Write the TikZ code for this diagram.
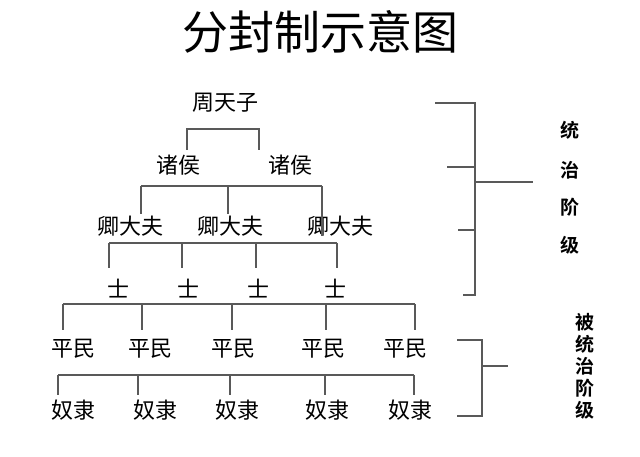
\documentclass[tikz,border=0pt]{standalone}
\usepackage{fontspec}
\newfontfamily\cjk{Noto Sans CJK SC}
\newfontfamily\cjkbold{Noto Sans CJK SC Bold}
\tikzset{
  rank/.style={font=\cjk\fontsize{22}{22}\selectfont,inner sep=1pt},
  side/.style={font=\cjkbold\fontsize{19}{19}\selectfont,inner sep=1pt},
  link/.style={draw=black!65,line width=1.1pt}
}
\begin{document}
\begin{tikzpicture}[x=1pt,y=-1pt]
\useasboundingbox (0,0) rectangle (640,457);
\node (title) at (320,32) {\cjk\fontsize{46}{46}\selectfont 分封制示意图};
% ranks
\node[rank] (king) at (225,103) {周天子};
\node[rank] (lord1) at (178,165) {诸侯};
\node[rank] (lord2) at (290,165) {诸侯};
\foreach \i/\x in {1/130,2/230,3/340} \node[rank] (qing\i) at (\x,226) {卿大夫};
\foreach \i/\x in {1/118,2/188,3/258,4/335} \node[rank] (shi\i) at (\x,289) {士};
\foreach \i/\x in {1/73,2/150,3/233,4/323,5/405} \node[rank] (min\i) at (\x,349) {平民};
\foreach \i/\x in {1/73,2/155,3/237,4/327,5/410} \node[rank] (nu\i) at (\x,410) {奴隶};
% tree
\draw[link] (187,150) -- (187,129) -- (259,129) -- (259,150);
\draw[link] (141,186) -- (322,186);
\foreach \x/\y in {141/214,228/214,322/236} \draw[link] (\x,186) -- (\x,\y);
\draw[link] (109,243) -- (337,243);
\foreach \x in {109,182,256,337} \draw[link] (\x,243) -- (\x,268);
\draw[link] (63,304) -- (415,304);
\foreach \x in {63,142,232,326,415} \draw[link] (\x,304) -- (\x,330);
\draw[link] (58,375) -- (414,375);
\foreach \x in {58,138,230,325,414} \draw[link] (\x,375) -- (\x,395);
% ruling class
\draw[link] (435,103) -- (475,103) -- (475,295) -- (463,295);
\draw[link] (447,167) -- (475,167);
\draw[link] (458,230) -- (475,230);
\draw[link] (475,182) coordinate (rule) -- (533,182);
\foreach \t/\y in {统/130,治/170,阶/207,级/245} \node[side] at (570,\y) {\t};
% ruled class
\draw[link] (457,340) -- (482,340) -- (482,416) -- (457,416);
\draw[link] (482,366) -- (508,366);
\foreach \t/\y in {被/322,统/344,治/366,阶/388,级/410} \node[side] at (585,\y) {\t};
\end{tikzpicture}
\end{document}
